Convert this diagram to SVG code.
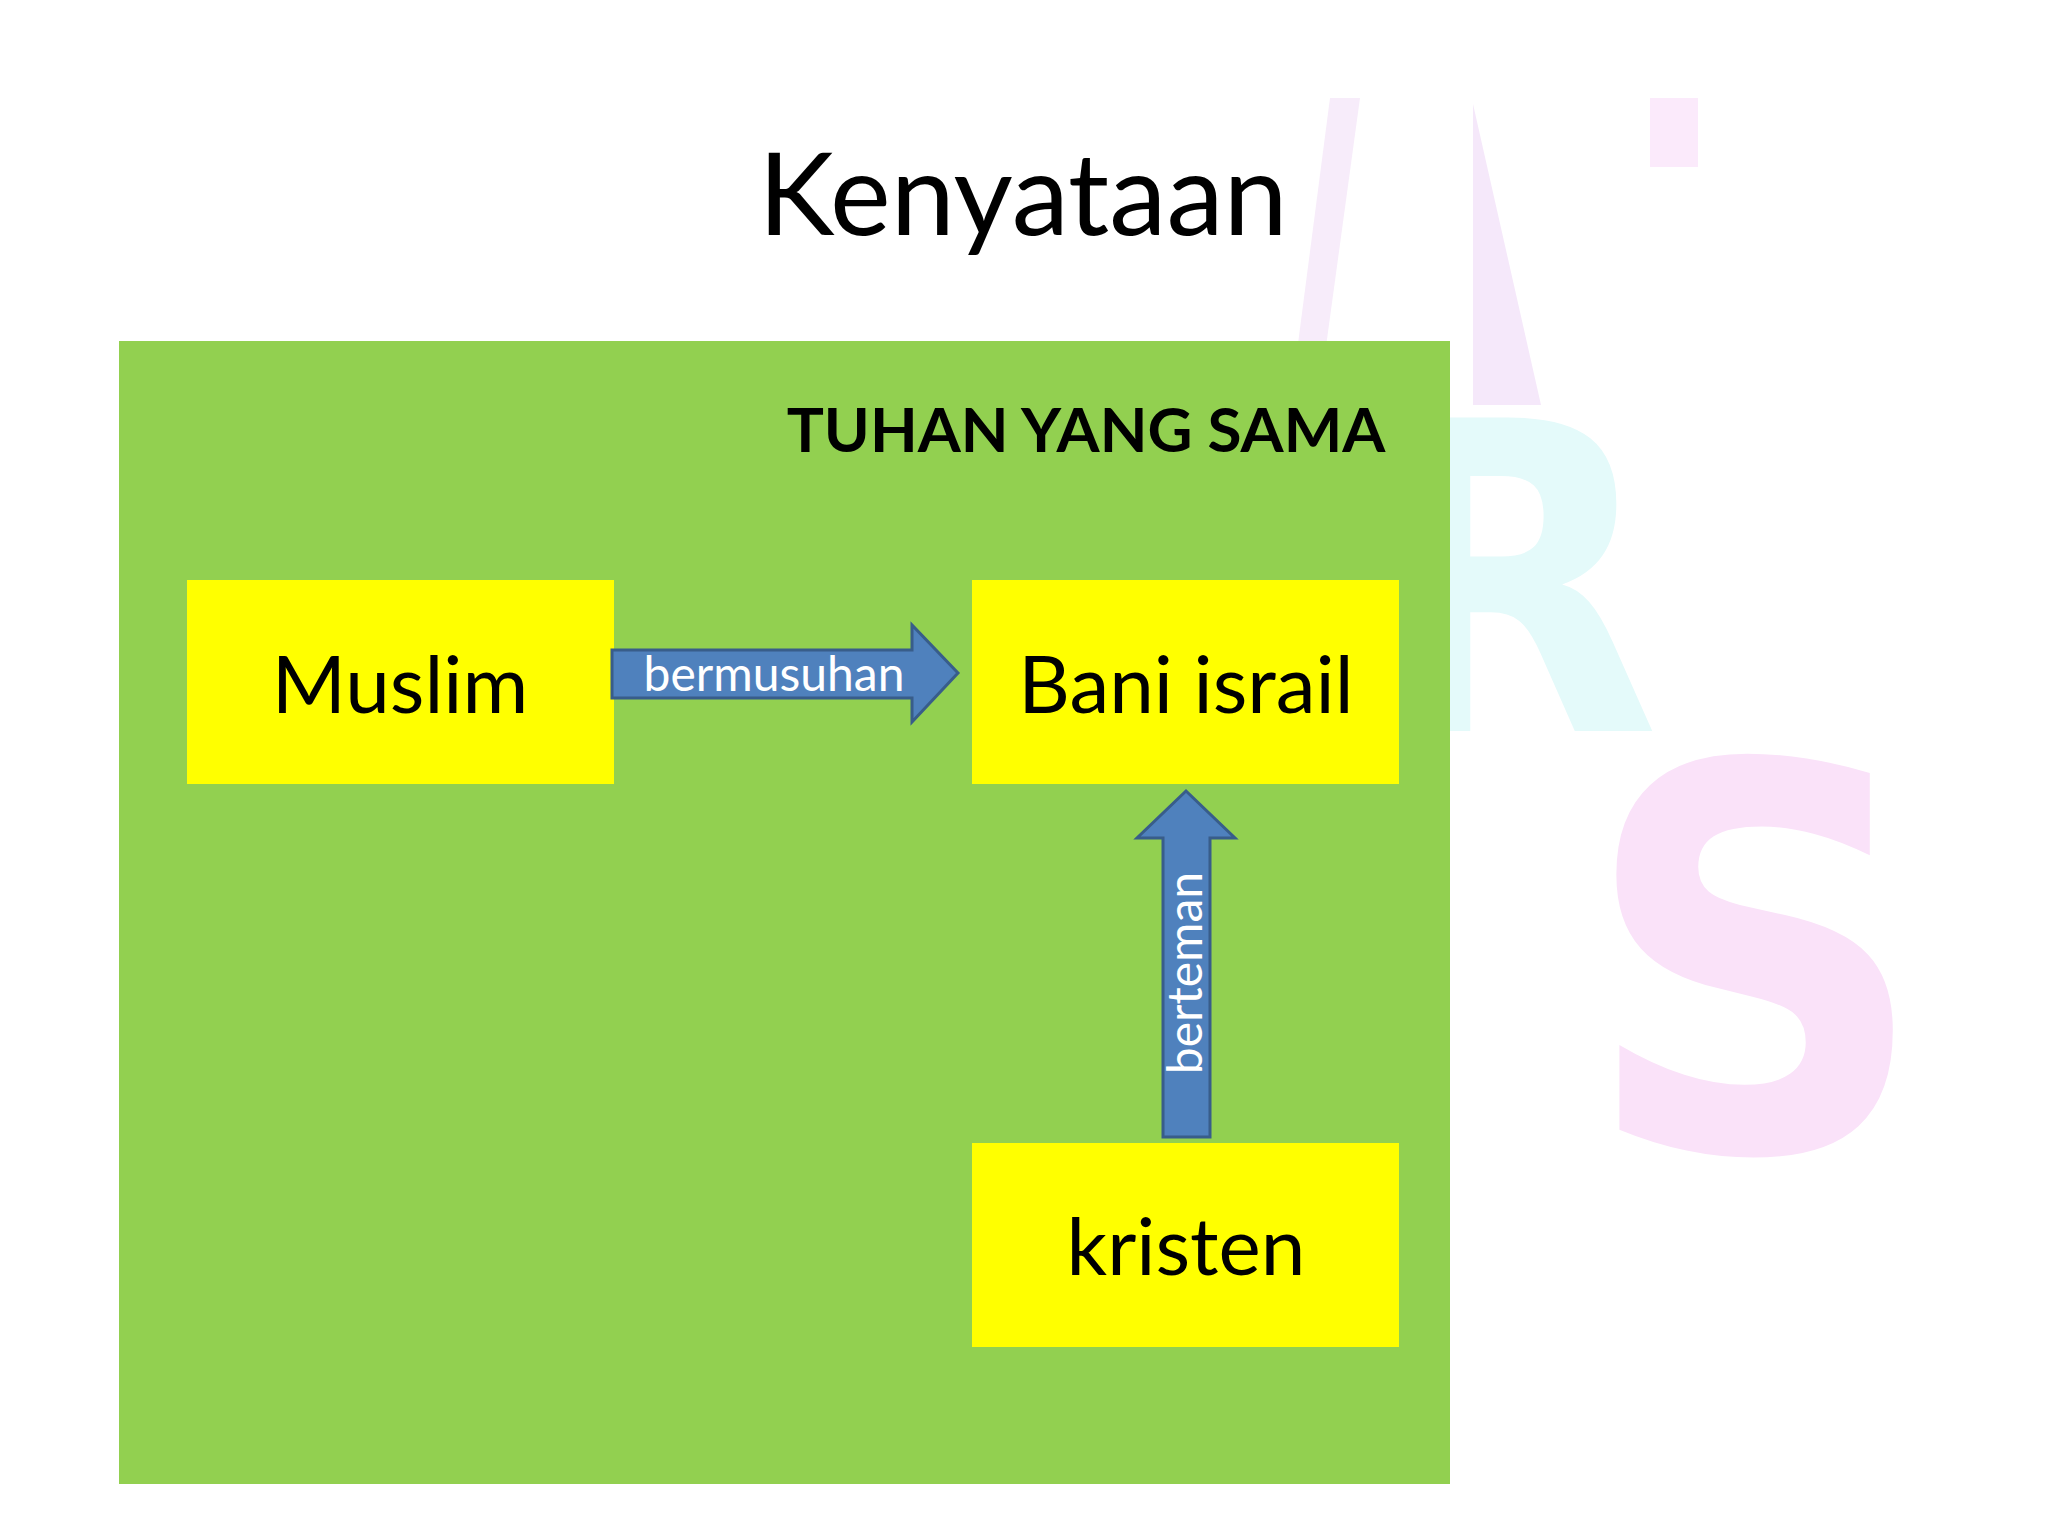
<svg xmlns="http://www.w3.org/2000/svg" width="2048" height="1536" viewBox="0 0 2048 1536">
<style>
.box{fill:#ffff00}
.lbl{font-family:Lato,"Open Sans","Liberation Sans",sans-serif;fill:#000;text-anchor:middle}
.arr{fill:#4f81bd;stroke:#385d8a;stroke-width:3;stroke-linejoin:miter}
.al{font-family:Lato,"Open Sans","Liberation Sans",sans-serif;fill:#fff;font-size:48px;text-anchor:middle}
.wm{font-family:"DejaVu Sans","Liberation Sans",sans-serif;font-weight:bold}
</style>
<rect width="2048" height="1536" fill="#fff"/>
<g id="watermark">
<rect x="1650" y="98" width="48" height="69" fill="#fbeafb"/>
<polygon points="1330,98 1360,98 1318,405 1290,405" fill="#f7ecfa"/>
<polygon points="1473,104 1473,405 1541,405" fill="#f5e8fa"/>
<text class="wm" x="1660" y="731" font-size="430" fill="#e4fafa" text-anchor="end" transform="translate(1660 0) scale(0.9 1) translate(-1660 0)">R</text>
<text class="wm" x="1928" y="1150" font-size="534" fill="#fae2f9" text-anchor="end" transform="translate(1928 0) scale(0.9 1) translate(-1928 0)">S</text>
</g>
<g id="frame">
<rect x="119" y="341" width="1331" height="1143" fill="#92d050"/>
<text x="1086" y="452" font-family="Lato,'Open Sans','Liberation Sans',sans-serif" font-weight="bold" font-size="62" text-anchor="middle">TUHAN YANG SAMA</text>
</g>
<g id="title"><text class="lbl" x="1023" y="235" font-size="115">Kenyataan</text></g>
<g id="muslim"><rect class="box" x="187" y="580" width="427" height="204"/><text class="lbl" x="400" y="713" font-size="80">Muslim</text></g>
<g id="bani-israil"><rect class="box" x="972" y="580" width="427" height="204"/><text class="lbl" x="1186" y="713" font-size="80">Bani israil</text></g>
<g id="kristen"><rect class="box" x="972" y="1143" width="427" height="204"/><text class="lbl" x="1186" y="1275" font-size="80">kristen</text></g>
<g id="connectors">
<g id="bermusuhan"><polygon class="arr" points="612,650 912,650 912,625 958,673 912,722 912,698 612,698"/><text class="al" x="774" y="691">bermusuhan</text></g>
<g id="berteman"><polygon class="arr" points="1163,1137 1163,838 1137,838 1186,791 1235,838 1210,838 1210,1137"/><text class="al" transform="translate(1202 973) rotate(-90)" x="0" y="0">berteman</text></g>
</g>
</svg>
